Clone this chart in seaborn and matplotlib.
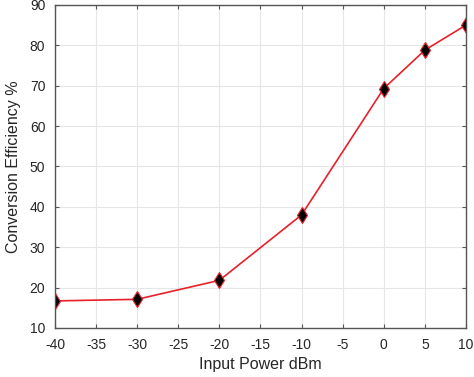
import matplotlib
matplotlib.use("Agg")
import matplotlib.pyplot as plt
import seaborn as sns
import pandas as pd

input_power = [-40, -30, -20, -10, 0, 5, 10]
efficiency = [16.7, 17.1, 21.8, 38.0, 69.3, 78.8, 85.0]
x_ticks = [-40, -35, -30, -25, -20, -15, -10, -5, 0, 5, 10]
y_ticks = [10, 20, 30, 40, 50, 60, 70, 80, 90]

sns.set_style("white")
plt.rcParams['font.family'] = ['Liberation Sans', 'DejaVu Sans']
plt.rcParams['axes.unicode_minus'] = False

df = pd.DataFrame({"power": input_power, "eff": efficiency})

fig = plt.figure(figsize=(4.74, 3.77), dpi=100)
ax = fig.add_axes([0.116, 0.130, 0.867, 0.857])
sns.lineplot(data=df, x="power", y="eff", ax=ax, color="#e8202a", linewidth=1.2,
             marker="d", markersize=8, markerfacecolor="black",
             markeredgecolor="#e8202a", markeredgewidth=0.8)
ax.set_xlim(-40, 10)
ax.set_ylim(10, 90)
ax.set_xticks(x_ticks)
ax.set_yticks(y_ticks)
ax.grid(True, color="#e6e6e6", linewidth=0.8)
ax.set_axisbelow(True)
for s in ax.spines.values():
    s.set_color("#555555")
    s.set_linewidth(1.0)
ax.tick_params(direction="in", length=3, color="#555555", labelsize=10,
               top=True, right=True, bottom=True, left=True, pad=7)
ax.set_xlabel("Input Power dBm", fontsize=11.5, labelpad=4)
ax.set_ylabel("Conversion Efficiency %", fontsize=11.5, labelpad=6)
fig.savefig("out.png", dpi=100)
